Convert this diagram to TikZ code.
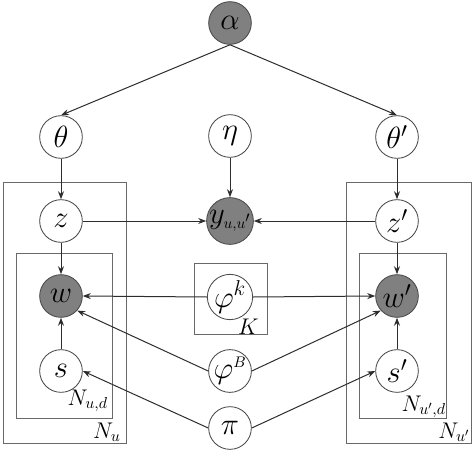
\RequirePackage{fix-cm}
\documentclass[tikz,border=0pt]{standalone}
\usetikzlibrary{arrows.meta}
\definecolor{obs}{RGB}{128,128,128}
\definecolor{edge}{RGB}{45,45,45}
\definecolor{platec}{RGB}{105,105,105}
\begin{document}
\begin{tikzpicture}[x=0.75pt,y=-0.75pt,
 var/.style={circle,draw=edge!85,line width=0.65pt,minimum size=32pt,inner sep=0pt,font=\fontsize{23}{26}\selectfont},
 obsvar/.style={var,fill=obs},
 arr/.style={-{Stealth[length=6pt,width=4.5pt]},draw=edge,line width=0.75pt},
 plate/.style={draw=platec,line width=0.65pt},
 lab/.style={font=\fontsize{17}{19}\selectfont,inner sep=0pt,anchor=base east}]
\useasboundingbox (0,0) rectangle (474,453);
% plates
\draw[plate] (3,182) rectangle (126,443);
\draw[plate] (16,253) rectangle (112,418);
\draw[plate] (346,182) rectangle (471,443);
\draw[plate] (359,253) rectangle (446,418);
\draw[plate] (194,263) rectangle (267,334);
\node[lab] (lNu) at (121,438) {$N_u$};
\node[lab] (lNud) at (108,405) {$N_{u,d}$};
\node[lab] (lK) at (259,334) {$K$};
\node[lab] (lNup) at (470,438) {$N_{u'}$};
\node[lab] (lNupd) at (446,411) {$N_{u',d}$};
% nodes
\node[obsvar] (alpha) at (230,23) {$\alpha$};
\node[var] (theta) at (61,137) {$\theta$};
\node[var] (eta) at (230,136) {$\eta$};
\node[var] (thetap) at (397,137) {$\theta'$};
\node[var] (z) at (61,221) {$z$};
\node[obsvar] (y) at (230,221) {$y_{\scriptscriptstyle u,u'}$};
\node[var] (zp) at (397,221) {$z'$};
\node[obsvar] (w) at (61,296) {$w$};
\node[var] (phik) at (230,297) {$\varphi^k$};
\node[obsvar] (wp) at (397,296) {$w'$};
\node[var] (s) at (61,371) {$s$};
\node[var] (phiB) at (230,371) {$\varphi^{\scriptscriptstyle B}$};
\node[var] (sp) at (397,371) {$s'$};
\node[var] (pi) at (230,428) {$\pi$};
% edges
\draw[arr] (alpha.south) -- (theta.north);
\draw[arr] (alpha.south) -- (thetap.north);
\draw[arr] (theta) -- (z);
\draw[arr] (thetap) -- (zp);
\draw[arr] (eta) -- (y);
\draw[arr] (z) -- (y);
\draw[arr] (zp) -- (y);
\draw[arr] (z) -- (w);
\draw[arr] (zp) -- (wp);
\draw[arr] (s) -- (w);
\draw[arr] (sp) -- (wp);
\draw[arr] (phik.west) -- (w.east);
\draw[arr] (phik.east) -- (wp.west);
\draw[arr] (phiB.west) -- (w.-42);
\draw[arr] (phiB.east) -- (wp.-138);
\draw[arr] (pi.west) -- (s.east);
\draw[arr] (pi.east) -- (sp.west);
\end{tikzpicture}
\end{document}
